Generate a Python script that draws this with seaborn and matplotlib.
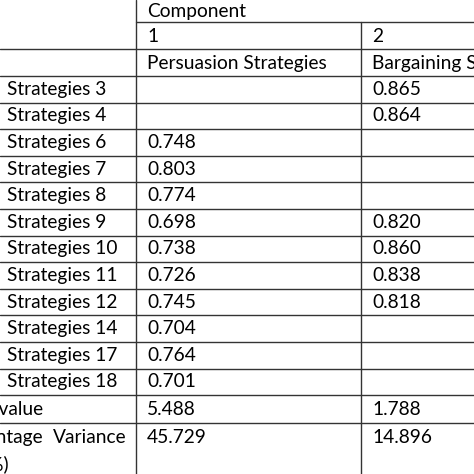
import matplotlib
matplotlib.use("Agg")
import matplotlib.pyplot as plt
import seaborn as sns

sns.set_style("white")
plt.rcParams['font.family'] = ['Lato', 'DejaVu Sans']

row_labels = ["Strategies 3", "Strategies 4", "Strategies 6", "Strategies 7", "Strategies 8",
              "Strategies 9", "Strategies 10", "Strategies 11", "Strategies 12", "Strategies 14",
              "Strategies 17", "Strategies 18"]
comp1 = ["", "", "0.748", "0.803", "0.774", "0.698", "0.738", "0.726", "0.745", "0.704", "0.764", "0.701"]
comp2 = ["0.865", "0.864", "", "", "", "0.820", "0.860", "0.838", "0.818", "", "", ""]
eigen = ["5.488", "1.788"]
variance = ["45.729", "14.896"]
col_names = ["Persuasion Strategies", "Bargaining Strategies"]

fig = plt.figure(figsize=(4.74, 4.74), dpi=100)
ax = fig.add_axes([0, 0, 1, 1])
ax.set_xlim(0, 474)
ax.set_ylim(474, 0)
ax.axis("off")

lw = 1.0
c = "#333333"
fs = 13.8
x0, x1, x2 = 7, 147, 372
v1, v2 = 136, 361
top = 76
rh = 26.6

# grid lines
ax.plot([v1, 474], [22, 22], color=c, lw=lw)
ax.plot([v2, v2], [22, 474], color=c, lw=lw)
ax.plot([v1, v1], [0, 474], color=c, lw=lw)
ax.plot([0, 474], [49, 49], color=c, lw=lw)
for i in range(len(row_labels) + 1):
    y = top + i * rh
    ax.plot([0, 474], [y, y], color=c, lw=lw)
eig_bot = top + len(row_labels) * rh + 28
ax.plot([0, 474], [eig_bot, eig_bot], color=c, lw=lw)

def t(x, y, s, ha="left"):
    ax.text(x, y, s, fontsize=fs, ha=ha, va="center", color="black")

t(x1, 11, "Component")
t(x1, 36, "1")
t(x2, 36, "2")
t(x1, 63, col_names[0])
t(x2, 63, col_names[1])
for i, lab in enumerate(row_labels):
    y = top + (i + 0.5) * rh
    t(x0, y, lab)
    t(x1, y, comp1[i])
    t(x2, y, comp2[i])
ye = top + len(row_labels) * rh + 14
t(43, ye, "Eigenvalue", ha="right")
t(x1, ye, eigen[0])
t(x2, ye, eigen[1])
yv = eig_bot + 14
t(43, yv, "Percentage", ha="right")
t(127, yv, "Variance", ha="right")
t(9, yv + 27, "(%)", ha="right")
t(x1, yv, variance[0])
t(x2, yv, variance[1])

fig.savefig("out.png", dpi=100)
